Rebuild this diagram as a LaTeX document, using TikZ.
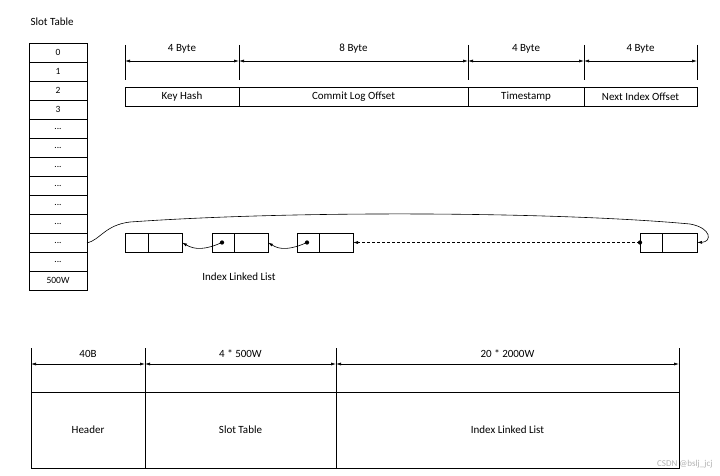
\documentclass[tikz,border=0pt]{standalone}
\usepackage{fontspec}
\setmainfont{Carlito}
\usetikzlibrary{arrows.meta}
\newcommand\slottext[1]{\ifcase#1 0\or 1\or 2\or 3\or 500W\else ...\fi}
\begin{document}
\begin{tikzpicture}[x=1pt,y=-1pt,
  lbl/.style={font=\fontsize{11}{12}\selectfont},
  dim/.style={line width=0.6pt,{Latex[length=5pt,width=3pt]}-{Latex[length=5pt,width=3pt]}},
  tick/.style={line width=0.5pt},
  ptr/.style={line width=0.6pt,-{Latex[length=5pt,width=3pt]}},
  dot/.style={circle,fill,inner sep=1.5pt}]
\useasboundingbox (0,0) rectangle (720,476);
% slot table
\node[lbl,anchor=west] (st) at (27,22) {Slot Table};
\foreach \i in {0,...,12}{
  \pgfmathtruncatemacro\k{\i==12 ? 4 : (\i<4 ? \i : 5)}
  \draw[line width=0.6pt] (29,{43+\i*19}) rectangle (87,{43+(\i+1)*19});
  \node[font=\fontsize{9.5}{10}\selectfont] (s\i) at (58,{52.5+\i*19}) {\slottext{\k}};
}
% record fields
\foreach \a/\b/\t/\w in {125/239/Key Hash/4 Byte,239/468/Commit Log Offset/8 Byte,468/584/Timestamp/4 Byte,584/697/Next Index Offset/4 Byte}{
  \draw[line width=0.6pt] (\a,87) rectangle (\b,106);
  \node[lbl] at ({(\a+\b)/2},96.5) {\t};
  \draw[dim] (\a,61) -- (\b,61);
  \node[lbl] at ({(\a+\b)/2},49) {\w};
}
\foreach \x in {125,239,468,584,697} \draw[tick] (\x,45) -- (\x,80);
% linked list
\foreach \n/\a/\m/\b in {a/125/148/182,b/212/234/268,c/297/319/353,d/640/662/697}{
  \draw[line width=0.6pt] (\a,233) rectangle (\b,252);
  \draw[line width=0.6pt] (\m,233) -- (\m,252);
  \coordinate (\n L) at (\a,242.5);
  \coordinate (\n R) at (\b,242.5);
}
\node[dot] (pb) at (222,242.5) {};
\node[dot] (pc) at (307,242.5) {};
\node[dot] (pd) at (640,242.5) {};
\draw[ptr] (pb.center) .. controls (205,250) and (195,250) .. (aR);
\draw[ptr] (pc.center) .. controls (290,250) and (280,250) .. (bR);
\draw[ptr,densely dashed] (pd.center) -- (cR);
\coordinate (s10e) at (87,243);
\draw[ptr] (s10e) .. controls (100,240) and (105,225) .. (130,222)
  .. controls (300,210) and (560,212) .. (690,224)
  .. controls (712,228) and (712,242) .. (dR);
\node[lbl] (ill) at (239,277) {Index Linked List};
% file layout
\foreach \x in {31,145,336,679} \draw[tick] (\x,348) -- (\x,392);
\foreach \a/\b/\w/\t in {31/145/40B/Header,145/336/4 * 500W/Slot Table,336/679/20 * 2000W/Index Linked List}{
  \draw[dim] (\a,364) -- (\b,364);
  \node[lbl] at ({(\a+\b)/2},354) {\w};
  \draw[line width=0.6pt] (\a,392) rectangle (\b,468);
  \node[lbl] at ({(\a+\b)/2},430) {\t};
}
\node[font=\fontsize{9}{10}\selectfont,text=gray!60,anchor=east] (wm) at (716,464) {CSDN @bslj\_jcj};
\end{tikzpicture}
\end{document}
